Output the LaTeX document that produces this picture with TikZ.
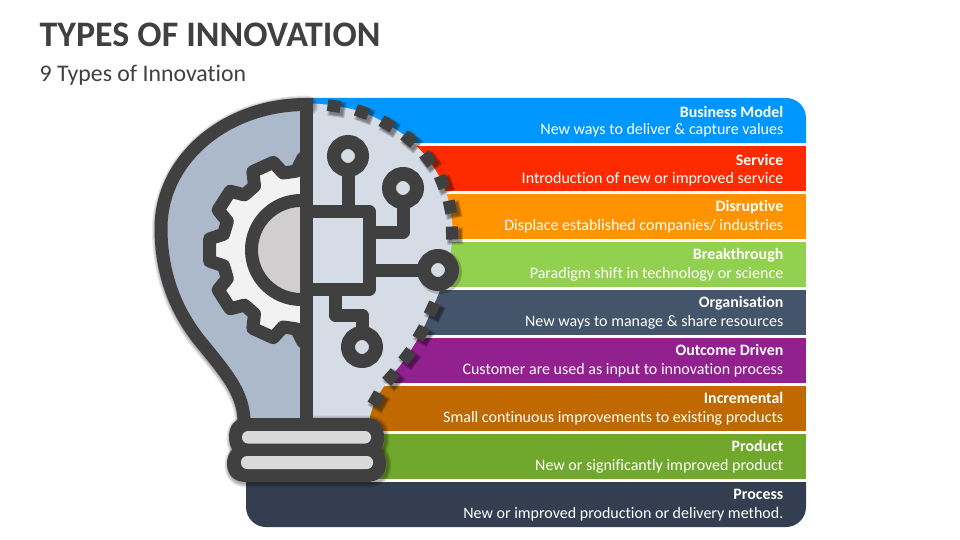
\documentclass[tikz,border=0pt]{standalone}
\usepackage{fontspec}
\usetikzlibrary{calc}
\setmainfont[Ligatures=NoCommon]{Carlito}
\definecolor{ink}{HTML}{404040}
\definecolor{bulbL}{HTML}{ACB9CA}
\definecolor{bulbR}{HTML}{D6DCE5}
\definecolor{hubc}{HTML}{D0CECE}
\definecolor{gearc}{HTML}{F2F2F2}
\definecolor{basec}{HTML}{D9D9D9}
\definecolor{b1}{HTML}{0096FF}
\definecolor{b2}{HTML}{FF2B00}
\definecolor{b3}{HTML}{FF9300}
\definecolor{b4}{HTML}{92D050}
\definecolor{b5}{HTML}{44546A}
\definecolor{b6}{HTML}{92208F}
\definecolor{b7}{HTML}{BF6900}
\definecolor{b8}{HTML}{6FA82C}
\definecolor{b9}{HTML}{333F50}
\tikzset{
  ttl/.style={anchor=base west,inner sep=0pt,text=ink,font=\fontsize{35.9}{38}\selectfont\bfseries},
  subttl/.style={anchor=base west,inner sep=0pt,text=ink,font=\fontsize{23.8}{26}\selectfont},
  head/.style={anchor=base east,inner sep=0pt,text=white,font=\fontsize{15.9}{18}\selectfont\bfseries},
  desc/.style={anchor=base east,inner sep=0pt,text=white,font=\fontsize{16}{18}\selectfont},
  thick line/.style={draw=ink,line width=13pt,line join=round,line cap=round},
  ringmark/.style={circle,draw=ink,line width=14pt,fill=bulbR,minimum size=28pt,inner sep=0pt},
  dotmark/.style={rectangle,fill=ink,minimum width=13pt,minimum height=12pt,inner sep=0pt},
  shade/.style={draw=black,opacity=.09,line join=round,line cap=round},
}
\def\bulbpath{(306,104.5) .. controls (225,104.5) and (161,160) .. (161,228) .. controls (161,280) and (180,318) .. (205,347) .. controls (225,372) and (243,392) .. (244,420)}
\def\capA{(229,437) .. controls (229,425) and (235,418) .. (247,418) -- (366,418) .. controls (378,418) and (384,425) .. (384,437) .. controls (384,449) and (378,456) .. (366,456) -- (247,456) .. controls (235,456) and (229,449) .. (229,437) -- cycle}
\def\capB{(227,463.5) .. controls (227,452) and (234,445) .. (246,445) -- (367,445) .. controls (379,445) and (386,452) .. (386,463.5) .. controls (386,475) and (379,482) .. (367,482) -- (246,482) .. controls (234,482) and (227,475) .. (227,463.5) -- cycle}
\begin{document}
\begin{tikzpicture}[x=1pt,y=-1pt]
\useasboundingbox (0,0) rectangle (960,540);
\fill[white] (0,0) rectangle (960,540);
% titles
\node[ttl] (title) at (39.5,46.5) {TYPES OF INNOVATION};
\node[subttl] (subtitle) at (39.5,81.5) {9 Types of Innovation};
% bars
\fill[b1] (306,98) -- (786,98) arc[start angle=-90,end angle=0,radius=20] -- (806,143) -- (306,143) -- cycle;
\fill[b2] (306,146) rectangle (806,191);
\fill[b3] (306,194) rectangle (806,239);
\fill[b4] (306,242) rectangle (806,287);
\fill[b5] (306,290) rectangle (806,335);
\fill[b6] (306,338) rectangle (806,383);
\fill[b7] (306,386) rectangle (806,431);
\fill[b8] (306,434) rectangle (806,479);
\fill[b9] (246,482) -- (806,482) -- (806,507) arc[start angle=0,end angle=90,radius=20] -- (266,527) arc[start angle=90,end angle=180,radius=20] -- cycle;
% bar texts
\foreach \n/\yy/\dd/\h/\d in {
 a/118/135/Business Model/New ways to deliver \& capture values,
 b/165/183/Service/Introduction of new or improved service,
 c/211/230/Disruptive/Displace established companies\slash{} industries,
 d/259/278/Breakthrough/Paradigm shift in technology or science,
 e/307/326/Organisation/New ways to manage \& share resources,
 f/355/374/Outcome Driven/Customer are used as input to innovation process,
 g/403/422/Incremental/Small continuous improvements to existing products,
 h/451/470/Product/New or significantly improved product,
 i/499/518/Process/New or improved production or delivery method.}{
  \node[head] (head\n) at (783.5,\yy) {\h};
  \node[desc] (desc\n) at (783.5,\dd) {\d};
}
% right half fill
\fill[bulbR] plot[smooth,tension=.55] coordinates {(306,103) (334,105.5) (362,112) (387,124) (409,139) (428,159) (442,182) (450,207) (452.5,233) (449,262) (442,285) (432,309) (421,333) (407,356) (391,377) (376,399) (369,420)} -- (306,420) -- cycle;
% shadows
\begin{scope}[shift={(1.5,1.5)}]
  \foreach \w in {21,19,17,15}{
    \draw[shade,line width=\w pt] \bulbpath;
    \draw[shade,line width=\w pt-13pt] \capA;
    \draw[shade,line width=\w pt-13pt] \capB;
  }
\end{scope}
\foreach \xx/\yy/\a in {334/106/-8,362/112/-20,387/124/-30,409/139/-40,428/159/-52,442/182/-68,450/207/-78,452/233/-88,432/309/65,421/333/60,407/356/52,391/377/48,376/399/60}{
  \foreach \e in {2,4,6}{
    \node[rectangle,fill=black,opacity=.17,minimum width=11pt+\e pt,minimum height=10pt+\e pt,inner sep=0pt,rotate=\a] at (\xx+3,\yy+3) {};
  }
}
\node[circle,fill=black,opacity=.2,minimum size=44pt,inner sep=0pt] (ringshade) at (440,272) {};
% left half fill
\fill[bulbL] \bulbpath -- (306,420) -- cycle;
% gear and hub
\begin{scope}
  \clip (150,90) rectangle (306,360);
  \draw[draw=ink,fill=gearc,line width=13pt,line join=round]
    ($(301,250)+(180+11.5:79)$)
    \foreach \k in {0,...,10}{
      -- ($(301,250)+(180-\k*32.727+7:92)$)
      -- ($(301,250)+(180-\k*32.727-7:92)$)
      -- ($(301,250)+(180-\k*32.727-11.5:79)$)
      -- ($(301,250)+(180-\k*32.727-21.2:79)$)
    } -- cycle;
  \draw[draw=ink,fill=hubc,line width=13pt] (301,250) circle[radius=49.5];
\end{scope}
% circuit
\draw[thick line] (348,156) -- (348,212);
\draw[thick line] (403,188) -- (403,232) -- (369,232);
\draw[thick line] (438,270) -- (369,270);
\draw[thick line] (335,290) -- (335,315) -- (362,315) -- (362,347);
\draw[draw=ink,fill=bulbR,line width=13pt,line join=round] (306,211.5) rectangle (369,289.5);
\node[ringmark] (ring1) at (348,156) {};
\node[ringmark] (ring2) at (403,188) {};
\node[ringmark] (ring3) at (438,270) {};
\node[ringmark] (ring4) at (362,347) {};
% outline
\draw[thick line,line cap=butt] \bulbpath;
\draw[draw=ink,line width=13pt,line cap=butt] (306.5,98) -- (306.5,425);
% base
\draw[draw=none,fill=ink] \capA;
\draw[draw=none,fill=ink] \capB;
\fill[basec,rounded corners=6pt] (242,431) rectangle (371,443.5);
\fill[basec,rounded corners=6pt] (241,456) rectangle (373,469);
% dots
\foreach \xx/\yy/\a in {334/106/-8,362/112/-20,387/124/-30,409/139/-40,428/159/-52,442/182/-68,450/207/-78,452/233/-88,432/309/65,421/333/60,407/356/52,391/377/48,376/399/60}{
  \node[dotmark,rotate=\a] at (\xx,\yy) {};
}
\end{tikzpicture}
\end{document}
